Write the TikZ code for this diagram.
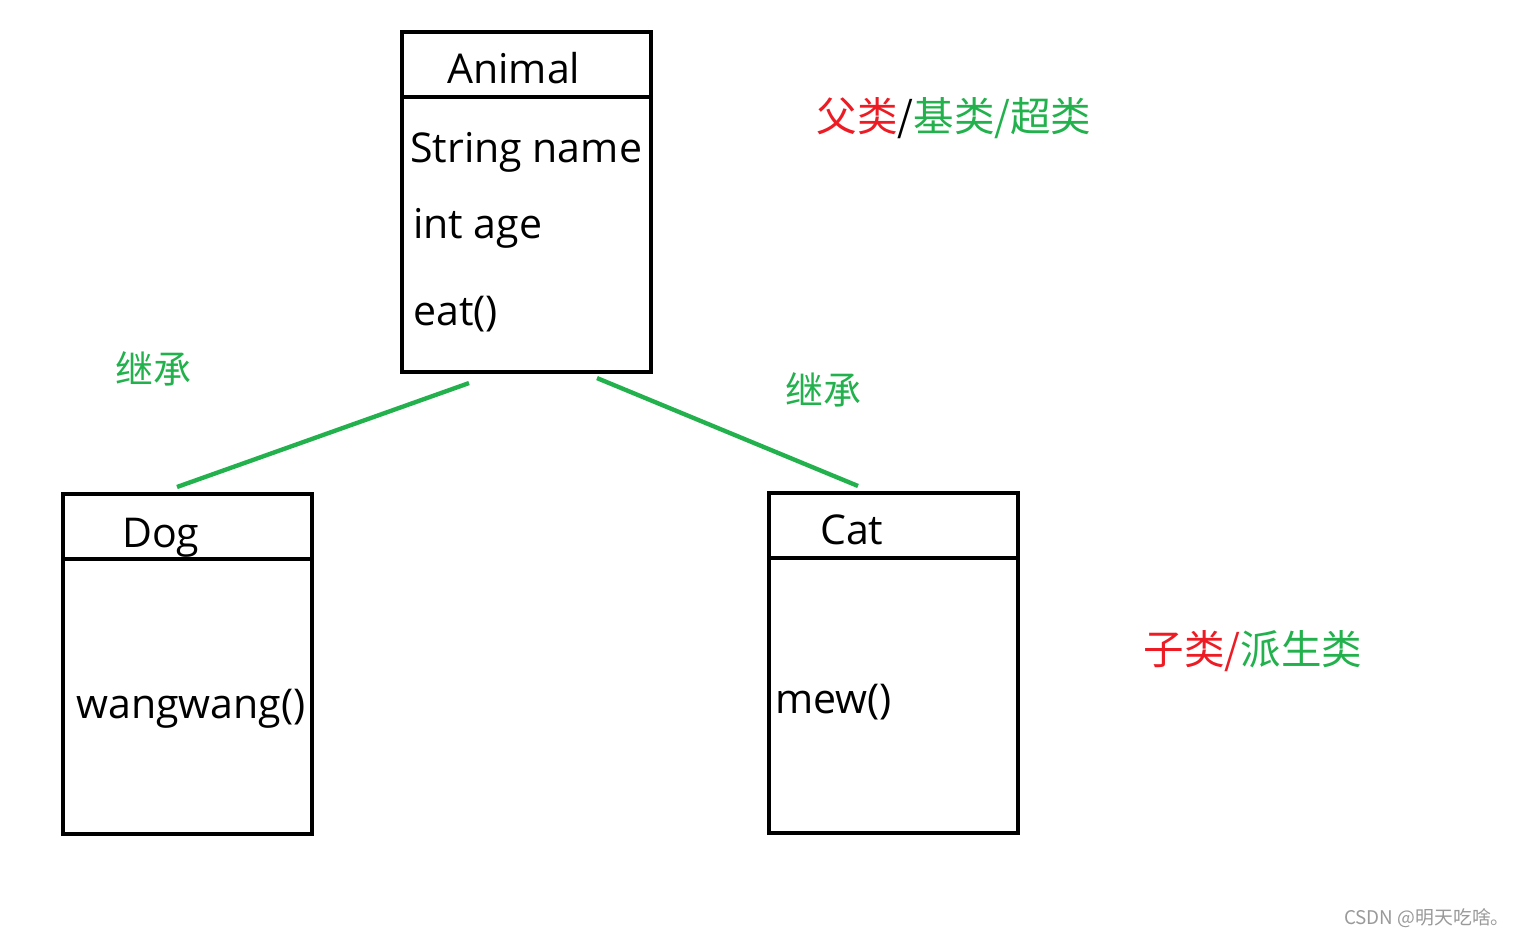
\documentclass[tikz,border=0pt]{standalone}
\usepackage{fontspec}
\setmainfont{Open Sans}
\newfontfamily\cjk{Noto Sans CJK SC}
\usetikzlibrary{positioning,calc}

\definecolor{paintgreen}{RGB}{34,177,76}
\definecolor{paintred}{RGB}{237,28,36}

\begin{document}
\begin{tikzpicture}[
        x=0.025cm, y=-0.025cm,
        titlebox/.style={rectangle, draw=black, line width=3.3pt, minimum width=6.225cm, minimum height=1.625cm, inner sep=0pt, outer sep=0pt},
        bodybox/.style={rectangle, draw=black, line width=3.3pt, minimum width=6.225cm, minimum height=6.875cm, inner sep=0pt, outer sep=0pt},
        member/.style={inner sep=0pt, anchor=base west, font=\fontsize{29.2pt}{35pt}\selectfont},
        note/.style={inner sep=0pt, font=\cjk\fontsize{28.8pt}{34pt}\selectfont},
        inherit/.style={draw=paintgreen, line width=3.1pt},
      ]
      \useasboundingbox (0,0) rectangle (1521,938);
      % Animal
      \node [titlebox] (animaltitle) at (526.5,64.5) {};
      \node [bodybox, below=0pt of animaltitle] (animalbody) {};
      \node [member] (animalname) at ([shift={(45,52)}]animaltitle.north west) {Animal};
      \node [member] (strname) at ([shift={(8,65)}]animalbody.north west) {String name};
      \node [member] (intage) at ([shift={(11,141)}]animalbody.north west) {int age};
      \node [member] (eat) at ([shift={(11,228)}]animalbody.north west) {eat()};
      % Dog
      \node [titlebox] (dogtitle) at (187.5,526.5) {};
      \node [bodybox, below=0pt of dogtitle] (dogbody) {};
      \node [member] (dogname) at ([shift={(59,54)}]dogtitle.north west) {Dog};
      \node [member] (wangwang) at ([shift={(13,159)}]dogbody.north west) {wangwang()};
      % Cat
      \node [titlebox] (cattitle) at (893.5,525.5) {};
      \node [bodybox, below=0pt of cattitle] (catbody) {};
      \node [member] (catname) at ([shift={(51,52)}]cattitle.north west) {Cat};
      \node [member] (mew) at ([shift={(6,155)}]catbody.north west) {mew()};
      % notes
      \node [note, text=paintgreen, font=\cjk\fontsize{27pt}{32pt}\selectfont] (inheritl) at (153,369) {继承};
      \node [note, text=paintgreen, font=\cjk\fontsize{27pt}{32pt}\selectfont] (inheritr) at (823,390) {继承};
      \node [note] (supernote) at (954,118) {\textcolor{paintred}{父类}/\textcolor{paintgreen}{基类/超类}};
      \node [note] (subnote) at (1253,651) {\textcolor{paintred}{子类/}\textcolor{paintgreen}{派生类}};
      \node [inner sep=0pt, anchor=east, text=black!40, font=\cjk\fontsize{13.4pt}{16pt}\selectfont] (mark) at (1510,918) {CSDN @明天吃啥。};
      \draw [inherit] ([shift={(-57.5,11)}]animalbody.south) -- ([shift={(-10.5,-7)}]dogtitle.north);
      \draw [inherit] ([shift={(70.5,6)}]animalbody.south) -- ([shift={(-35.5,-7)}]cattitle.north);
    \end{tikzpicture}
\end{document}
